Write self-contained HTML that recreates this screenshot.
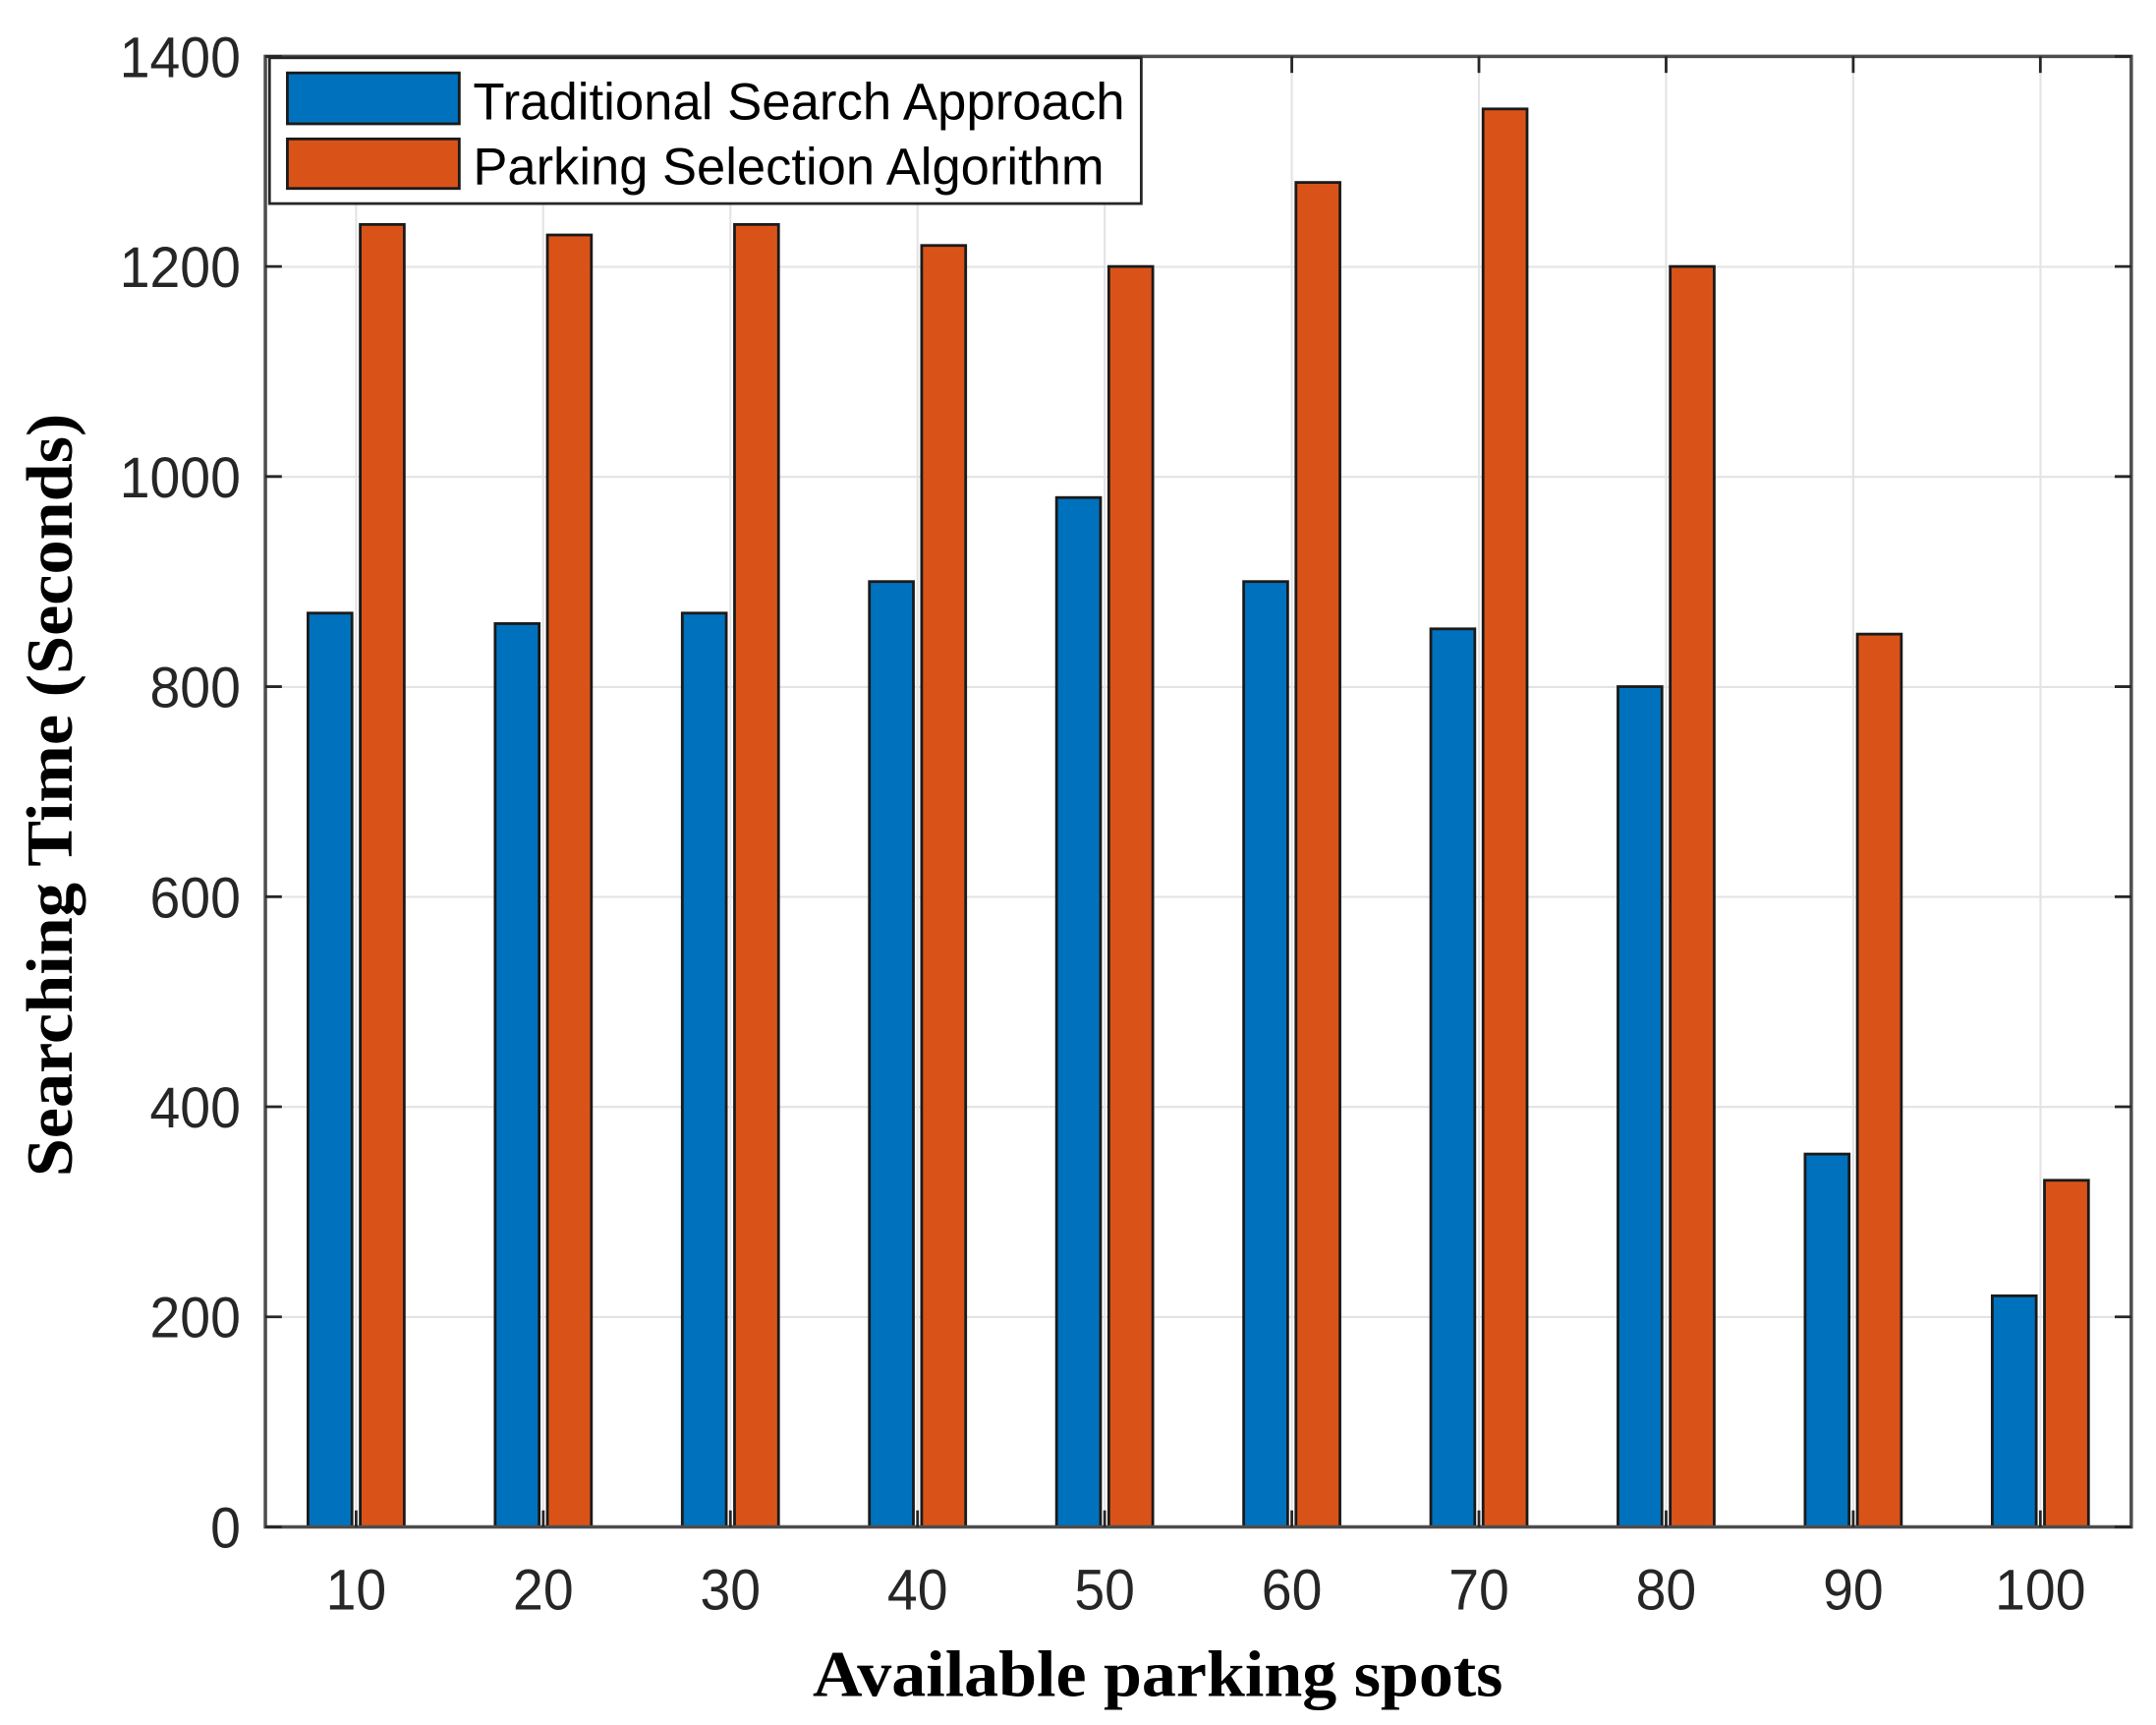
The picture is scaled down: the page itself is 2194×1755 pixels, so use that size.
<!DOCTYPE html>
<html><head><style>html,body{margin:0;padding:0;background:#fff}svg{display:block}</style></head>
<body>
<svg width="2194" height="1755" viewBox="0 0 1568 1254" preserveAspectRatio="none" xmlns="http://www.w3.org/2000/svg">
<rect width="1568" height="1254" fill="#fff"/>
<g stroke="#e3e3e3" stroke-width="1.5">
<line x1="193" x2="1550" y1="194" y2="194"/><line x1="193" x2="1550" y1="346.7" y2="346.7"/><line x1="193" x2="1550" y1="499.4" y2="499.4"/><line x1="193" x2="1550" y1="652" y2="652"/><line x1="193" x2="1550" y1="804.7" y2="804.7"/><line x1="193" x2="1550" y1="957.4" y2="957.4"/>
<line y1="41" y2="1110" x1="259" x2="259"/><line y1="41" y2="1110" x1="395" x2="395"/><line y1="41" y2="1110" x1="531.2" x2="531.2"/><line y1="41" y2="1110" x1="667.3" x2="667.3"/><line y1="41" y2="1110" x1="803.4" x2="803.4"/><line y1="41" y2="1110" x1="939.5" x2="939.5"/><line y1="41" y2="1110" x1="1075.6" x2="1075.6"/><line y1="41" y2="1110" x1="1211.7" x2="1211.7"/><line y1="41" y2="1110" x1="1347.8" x2="1347.8"/><line y1="41" y2="1110" x1="1484" x2="1484"/>
</g>
<g id="bars" stroke="#1a1a1a" stroke-width="2"></g>
<rect x="193" y="41" width="1357" height="1069" fill="none" stroke="#4d4d4d" stroke-width="2.5"/>
<g stroke="#262626" stroke-width="2" id="ticks"></g>
<g id="labs" font-family="Liberation Sans, Arial, sans-serif" font-size="42" fill="#262626"></g>
<text x="842" y="1233" font-family="Liberation Serif, serif" font-weight="bold" font-size="48" text-anchor="middle" fill="#000" textLength="502" lengthAdjust="spacingAndGlyphs">Available parking spots</text>
<text transform="translate(52,578) rotate(-90)" font-family="Liberation Serif, serif" font-weight="bold" font-size="48" text-anchor="middle" fill="#000" textLength="555" lengthAdjust="spacingAndGlyphs">Searching Time (Seconds)</text>
<rect x="196" y="42" width="634" height="106" fill="#fff" stroke="#262626" stroke-width="2"/>
<rect x="209" y="53" width="125" height="37" fill="#0072bd" stroke="#1a1a1a" stroke-width="2"/>
<rect x="209" y="101" width="125" height="36" fill="#d95319" stroke="#1a1a1a" stroke-width="2"/>
<g font-family="Liberation Sans, Arial, sans-serif" font-size="38" fill="#000">
<text x="344" y="87" textLength="474" lengthAdjust="spacingAndGlyphs">Traditional Search Approach</text>
<text x="344" y="134" textLength="459" lengthAdjust="spacingAndGlyphs">Parking Selection Algorithm</text>
</g>
<script>
var b=[870,860,870,900,980,900,855,800,355,220],o=[1240,1230,1240,1220,1200,1280,1350,1200,850,330];
var g=document.getElementById('bars'),t=document.getElementById('ticks'),L=document.getElementById('labs'),ns='http://www.w3.org/2000/svg';
function y(v){return 1110-v*1069/1400;}
function r(x,v,c){var e=document.createElementNS(ns,'rect');e.setAttribute('x',x);e.setAttribute('y',y(v));e.setAttribute('width',32);e.setAttribute('height',1110-y(v));e.setAttribute('fill',c);g.appendChild(e);}
function l(x1,y1,x2,y2){var e=document.createElementNS(ns,'line');e.setAttribute('x1',x1);e.setAttribute('y1',y1);e.setAttribute('x2',x2);e.setAttribute('y2',y2);t.appendChild(e);}
function tx(x,yy,s,anc){var e=document.createElementNS(ns,'text');e.setAttribute('x',x);e.setAttribute('y',yy);e.setAttribute('text-anchor',anc);e.setAttribute('textLength',s.length*22);e.setAttribute('lengthAdjust','spacingAndGlyphs');e.textContent=s;L.appendChild(e);}
for(var i=0;i<10;i++){var c=259+i*136.1;r(c-35,b[i],'#0072bd');r(c+3,o[i],'#d95319');l(c,1110,c,1098);l(c,41,c,53);tx(c,1170,String((i+1)*10),'middle');}
for(var k=0;k<=7;k++){var yy=y(k*200);l(193,yy,205,yy);l(1550,yy,1538,yy);tx(175,yy+15,String(k*200),'end');}
</script>
</svg>
</body></html>
